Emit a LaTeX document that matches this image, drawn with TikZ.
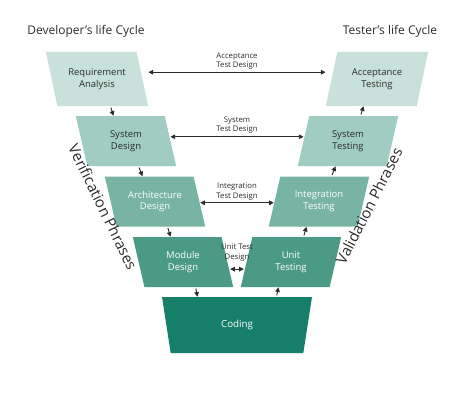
\documentclass[tikz,border=0pt]{standalone}
\usepackage{fontspec}
\setmainfont{Open Sans}
\usetikzlibrary{shapes.geometric,arrows.meta,calc}

\definecolor{stageA}{HTML}{C9E1DB}
\definecolor{stageB}{HTML}{A0CCC1}
\definecolor{stageC}{HTML}{77B4A4}
\definecolor{stageD}{HTML}{4B9A86}
\definecolor{stageE}{HTML}{167F6A}
\definecolor{inkdark}{HTML}{2B2B2B}

\tikzset{
  title/.style={font=\fontsize{9}{11}\selectfont, text=inkdark},
  dev/.style={trapezium, trapezium left angle=116, trapezium right angle=64,
    trapezium stretches body=true, minimum width=75.3pt, minimum height=37.5pt,
    inner sep=1pt, align=center, text=white, font=\fontsize{7.1}{8.8}\selectfont},
  tst/.style={dev, trapezium left angle=64, trapezium right angle=116},
  mid/.style={align=center, inner sep=2pt, text=inkdark, font=\fontsize{5.8}{6.9}\selectfont},
  phase/.style={text=inkdark, font=\fontsize{11.2}{13}\selectfont},
  flow/.style={-{Triangle[length=3.5pt,width=3.5pt]}, line width=0.7pt, draw=inkdark},
  twoway/.style={{Triangle[length=3.5pt,width=3.5pt]}-{Triangle[length=3.5pt,width=3.5pt]}, line width=0.7pt, draw=inkdark}
}

\begin{document}
\begin{tikzpicture}[x=0.75pt,y=0.75pt,yscale=-1,xscale=1]
\useasboundingbox (0,0) rectangle (474,410);

% Titles
\node[title] (devt) at (86,31) {Developer’s life Cycle};
\node[title] (tstt) at (390,31) {Tester’s life Cycle};

%Parallelogram, developer side
\node[dev, fill=stageA, text=inkdark, minimum width=76.7pt, minimum height=40.5pt] (req) at (97,79) {Requirement\\Analysis};
\node[dev, fill=stageB, text=inkdark] (sysd) at (126,141) {System\\Design};
\node[dev, fill=stageC] (arch) at (155,201.5) {Architecture\\Design};
\node[dev, fill=stageD] (modd) at (183,262) {Module\\Design};
%Parallelogram, tester side
\node[tst, fill=stageA, text=inkdark, minimum width=76.7pt, minimum height=40.5pt] (acc) at (377,79) {Acceptance\\Testing};
\node[tst, fill=stageB, text=inkdark] (syst) at (348,141) {System\\Testing};
\node[tst, fill=stageC] (intg) at (319,201.5) {Integration\\Testing};
\node[tst, fill=stageD] (unit) at (291,262) {Unit\\Testing};
%Trapezoid
\node[trapezium, trapezium left angle=115, trapezium right angle=115, trapezium stretches body=true,
  minimum width=112.5pt, minimum height=42pt, fill=stageE, text=white,
  font=\fontsize{7.3}{9}\selectfont] (code) at (237,325) {Coding};

% mid points of top and bottom edges (edges are 76 long)
\foreach \n in {req,sysd,arch,modd} {
  \coordinate (\n-top) at ($(\n.top left corner)+(38,0)$);
  \coordinate (\n-bot) at ($(\n.bottom right corner)+(-38,0)$);
}
\foreach \n in {acc,syst,intg,unit} {
  \coordinate (\n-top) at ($(\n.top right corner)+(-38,0)$);
  \coordinate (\n-bot) at ($(\n.bottom left corner)+(38,0)$);
}

% Phase labels
\node[phase, rotate=-64] (verif) at (103,207) {Verification Phrases};
\node[phase, rotate=63] (valid) at (369,206) {Validation Phrases};

% Test design labels
\node[mid] (atd) at (237,61) {Acceptance\\Test Design};
\node[mid] (std) at (237,125.5) {System\\Test Design};
\node[mid] (itd) at (237,191.5) {Integration\\Test Design};
\node[mid, inner ysep=6pt] (utd) at (237,252.5) {Unit Test\\Design};

% Two-way arrows
\draw[twoway] (req.bottom right corner |- atd.south) -- (acc.bottom left corner |- atd.south);
\draw[twoway, shorten <=-4.5pt, shorten >=-4.5pt] (sysd.bottom right corner |- std.south) -- (syst.bottom left corner |- std.south);
\draw[twoway, shorten <=-4pt, shorten >=-4pt] (arch.bottom right corner |- itd.south) -- (intg.bottom left corner |- itd.south);
\draw[twoway, shorten <=-2.5pt, shorten >=-2.5pt] (modd.bottom right corner |- utd.south) -- (unit.bottom left corner |- utd.south);

% Down the left
\draw[flow, shorten <=1pt] (req-bot) -- (sysd-top);
\draw[flow, shorten <=1pt] (sysd-bot) -- (arch-top);
\draw[flow, shorten <=1pt] (arch-bot) -- (modd-top);
\draw[flow, shorten <=1pt] (modd-bot) -- ($(modd-bot |- code.north)+(2,0)$);
% Up the right
\draw[flow, shorten <=1pt] ($(unit-bot |- code.north)+(-2,0)$) -- (unit-bot);
\draw[flow, shorten <=1pt] (unit-top) -- (intg-bot);
\draw[flow, shorten <=1pt] (intg-top) -- (syst-bot);
\draw[flow, shorten <=1pt] (syst-top) -- (acc-bot);

\end{tikzpicture}
\end{document}
